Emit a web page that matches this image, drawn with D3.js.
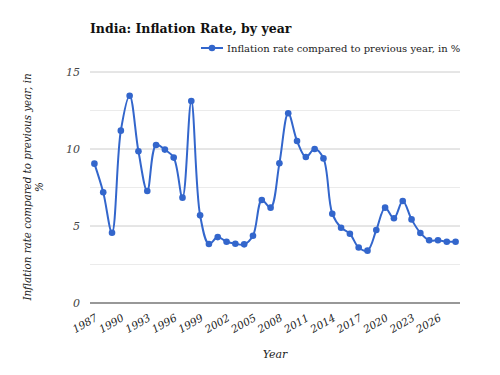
<!DOCTYPE html>
<html>
<head>
<meta charset="utf-8">
<script src="https://cdn.jsdelivr.net/npm/d3@7"></script>
<style>
  body { margin: 0; background: #fff; }
  text { font-family: "DejaVu Serif", serif; }
</style>
</head>
<body>
<div id="chart"></div>
<script>
// data
const years = d3.range(1987, 2029);
const inflation = [
  9.05, 7.19, 4.56, 11.19, 13.46, 9.85, 7.27, 10.26, 9.96, 9.44,
  6.84, 13.12, 5.69, 3.83, 4.28, 3.98, 3.85, 3.81, 4.37, 6.69,
  6.19, 9.07, 12.32, 10.52, 9.48, 10.0, 9.39, 5.8, 4.89, 4.5,
  3.6, 3.4, 4.74, 6.19, 5.5, 6.62, 5.43, 4.55, 4.07, 4.07,
  3.98, 3.98
];
const yTicks = [0, 5, 10, 15];
const yMinor = [2.5, 7.5, 12.5];
const xTicks = d3.range(1987, 2027, 3);

const width = 500, height = 375;
const margin = { left: 90, right: 40, top: 72, bottom: 72 };

const svg = d3.select("#chart").append("svg")
  .attr("width", width)
  .attr("height", height);

const x = d3.scaleLinear()
  .domain([1986.5, 2028.5])
  .range([margin.left, width - margin.right]);
const y = d3.scaleLinear()
  .domain([0, 15])
  .range([height - margin.bottom, margin.top]);

// gridlines
svg.append("g").selectAll("line")
  .data(yMinor)
  .join("line")
  .attr("x1", x.range()[0]).attr("x2", x.range()[1])
  .attr("y1", d => y(d)).attr("y2", d => y(d))
  .attr("stroke", "#ebebeb");
svg.append("g").selectAll("line")
  .data(yTicks.slice(1))
  .join("line")
  .attr("x1", x.range()[0]).attr("x2", x.range()[1])
  .attr("y1", d => y(d)).attr("y2", d => y(d))
  .attr("stroke", "#cccccc");

// baseline
svg.append("line")
  .attr("x1", x.range()[0]).attr("x2", x.range()[1])
  .attr("y1", y(0)).attr("y2", y(0))
  .attr("stroke", "#333").attr("stroke-width", 1.2);

// y tick labels
svg.append("g").selectAll("text")
  .data(yTicks)
  .join("text")
  .attr("x", 80)
  .attr("y", d => y(d))
  .attr("dy", "0.35em")
  .attr("text-anchor", "end")
  .style("font-style", "italic")
  .style("font-size", "11px")
  .attr("fill", "#444")
  .text(d => d);

// x tick labels
svg.append("g").selectAll("text")
  .data(xTicks)
  .join("text")
  .attr("transform", d => `translate(${x(d) + 4},${y(0) + 17}) rotate(-30)`)
  .attr("text-anchor", "end")
  .style("font-style", "italic")
  .style("font-size", "10.5px")
  .attr("fill", "#222")
  .text(d => d);

// axis titles
svg.append("text")
  .attr("x", (x.range()[0] + x.range()[1]) / 2)
  .attr("y", 358)
  .attr("text-anchor", "middle")
  .style("font-style", "italic")
  .style("font-size", "11px")
  .attr("fill", "#222")
  .text("Year");

const yTitle = svg.append("text")
  .attr("transform", "translate(31,187) rotate(-90)")
  .attr("text-anchor", "middle")
  .style("font-style", "italic")
  .style("font-size", "10.3px")
  .attr("fill", "#222");
yTitle.append("tspan").attr("x", 0).attr("y", 0)
  .text("Inflation rate compared to previous year, in");
yTitle.append("tspan").attr("x", 0).attr("y", 12).text("%");

// line + points
const line = d3.line()
  .x((d, i) => x(years[i]))
  .y(d => y(d))
  .curve(d3.curveCatmullRom);

svg.append("path")
  .datum(inflation)
  .attr("d", line)
  .attr("fill", "none")
  .attr("stroke", "#3366cc")
  .attr("stroke-width", 2);

svg.append("g").selectAll("circle")
  .data(inflation)
  .join("circle")
  .attr("cx", (d, i) => x(years[i]))
  .attr("cy", d => y(d))
  .attr("r", 3.3)
  .attr("fill", "#3366cc");

// title
svg.append("text")
  .attr("x", 90).attr("y", 33)
  .style("font-weight", "bold")
  .style("font-size", "12.5px")
  .attr("fill", "#111")
  .text("India: Inflation Rate, by year");

// legend
const lg = svg.append("g").attr("transform", "translate(201,48)");
lg.append("line").attr("x1", 0).attr("x2", 22)
  .attr("stroke", "#3366cc").attr("stroke-width", 2);
lg.append("circle").attr("cx", 11).attr("r", 3.3).attr("fill", "#3366cc");
lg.append("text")
  .attr("x", 26).attr("dy", "0.35em")
  .style("font-size", "10px")
  .attr("fill", "#222")
  .text("Inflation rate compared to previous year, in %");
</script>
</body>
</html>
